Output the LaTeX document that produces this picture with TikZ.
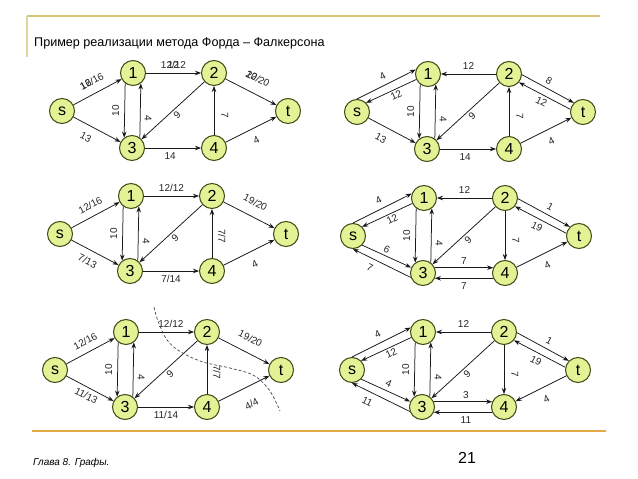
\documentclass[tikz,border=0pt]{standalone}
\usepackage{fontspec}
\setmainfont{Liberation Sans}
\usepackage{graphicx}
\usetikzlibrary{arrows.meta}
\definecolor{vfill}{RGB}{228,241,148}
\definecolor{vline}{RGB}{60,75,20}
\definecolor{topline}{RGB}{214,196,120}
\definecolor{botline}{RGB}{226,170,70}
\newcommand\vtxs{%
  \node[vtx] (s) at (0,0) {s};
  \node[vtx] (v1) at (71,-38) {1};
  \node[vtx] (v2) at (152,-38) {2};
  \node[vtx] (t) at (226,0) {t};
  \node[vtx] (v3) at (70,37) {3};
  \node[vtx] (v4) at (152,37) {4};}
\begin{document}
\begin{tikzpicture}[x=1pt,y=-1pt,
  vtx/.style={circle,draw=vline,fill=vfill,line width=1pt,minimum size=25pt,inner sep=0pt,font=\fontsize{16}{16}\selectfont},
  arr/.style={draw=black!90,line width=0.75pt,-{Stealth[length=6pt,width=4.5pt]}},
  lbl/.style={font=\fontsize{10}{10}\selectfont,inner sep=1pt,text=black!85},
  lup/.style={lbl,sloped,above=#1}, lup/.default=4pt,
  ldn/.style={lbl,sloped,below=#1}, ldn/.default=4pt,
  lleft/.style={lbl,left=#1}, lleft/.default=4pt,
  lright/.style={lbl,right=#1}, lright/.default=4pt,
  cut/.style={draw=black!80,line width=0.6pt,dash pattern=on 3pt off 2pt}]
\useasboundingbox (0,0) rectangle (638,479);
\fill[white] (0,0) rectangle (638,479);
% frame
\draw[topline,line width=1.2pt] (27,16) -- (600,16);
\draw[topline!70,line width=1.2pt] (27,16) -- (27,57);
\draw[botline,line width=1.2pt] (32,431) -- (606,431);
\node[anchor=base west,inner sep=0pt,font=\fontsize{12.6}{13}\selectfont] (title) at (34,46) {Пример реализации метода Форда – Фалкерсона};
\node[anchor=base west,inner sep=0pt,font=\itshape\fontsize{10}{10}\selectfont] (foot) at (33,465) {Глава 8. Графы.};
\node[anchor=base west,inner sep=0pt,font=\fontsize{16}{16}\selectfont] (page) at (458,463) {21};

% ---------- graph 1
\begin{scope}[shift={(62,111)},name prefix=ga-]
  \vtxs
  \draw[arr] (s) -- node[lup=7pt]{\ooalign{12/16\cr16\hfil}} (v1);
  \draw[arr] (s) -- node[ldn=7pt,pos=0.38]{13} (v3);
  \draw[arr] (v1) -- node[lup=3pt]{\ooalign{12/12\cr\hfil12\hfil}} (v2);
  \draw[arr] (v1.233) -- node[lleft]{\rotatebox{90}{10}} (v3.127);
  \draw[arr] (v3.53) -- node[lright=3pt,pos=0.35]{\rotatebox{-90}{4}} (v1.307);
  \draw[arr] (v2) -- node[ldn=1pt]{9} (v3);
  \draw[arr] (v3) -- node[ldn=3pt,pos=0.45]{14} (v4);
  \draw[arr] (v4) -- node[lright=6pt,pos=0.4]{\rotatebox{-90}{7}} (v2);
  \draw[arr] (v2) -- node[lup=10pt]{\ooalign{12/20\cr20\hfil}} (t);
  \draw[arr] (v4) -- node[ldn=7pt]{4} (t);
\end{scope}

% ---------- graph 2
\begin{scope}[shift={(357,112)},name prefix=gb-]
  \vtxs
  \draw[arr] (s.90) -- node[lup=4pt]{4} (v1.160);
  \draw[arr] (v1.205) -- node[ldn=1pt,pos=0.45]{12} (s.45);
  \draw[arr] (s) -- node[ldn=7pt,pos=0.38]{13} (v3);
  \draw[arr] (v1.233) -- node[lleft]{\rotatebox{90}{10}} (v3.127);
  \draw[arr] (v3.53) -- node[lright=3pt,pos=0.35]{\rotatebox{-90}{4}} (v1.307);
  \draw[arr] (v2) -- node[lup=3pt]{12} (v1);
  \draw[arr] (v2) -- node[ldn=1pt]{9} (v3);
  \draw[arr] (v2.-3) -- node[lup=3pt,pos=0.45]{8} (t.135);
  \draw[arr] (t.168) -- node[ldn=2pt]{12} (v2.-40);
  \draw[arr] (v3) -- node[ldn=3pt,pos=0.45]{14} (v4);
  \draw[arr] (v4) -- node[lright=6pt,pos=0.4]{\rotatebox{-90}{7}} (v2);
  \draw[arr] (v4) -- node[ldn=7pt]{4} (t);
\end{scope}

% ---------- graph 3
\begin{scope}[shift={(60,234)},name prefix=gc-]
  \vtxs
  \draw[arr] (s) -- node[lup=6pt]{12/16} (v1);
  \draw[arr] (s) -- node[ldn=6pt,pos=0.45]{7/13} (v3);
  \draw[arr] (v1) -- node[lup=3pt]{12/12} (v2);
  \draw[arr] (v1.233) -- node[lleft]{\rotatebox{90}{10}} (v3.127);
  \draw[arr] (v3.53) -- node[lright=3pt,pos=0.35]{\rotatebox{-90}{4}} (v1.307);
  \draw[arr] (v2) -- node[ldn=1pt]{9} (v3);
  \draw[arr] (v3) -- node[ldn=3pt]{7/14} (v4);
  \draw[arr] (v4) -- node[lright=5pt,pos=0.45]{\rotatebox{-90}{7/7}} (v2);
  \draw[arr] (v2) -- node[lup=9pt]{19/20} (t);
  \draw[arr] (v4) -- node[ldn=8pt]{4} (t);
\end{scope}

% ---------- graph 4
\begin{scope}[shift={(353,236)},name prefix=gd-]
  \vtxs
  \draw[arr] (s.90) -- node[lup=4pt]{4} (v1.160);
  \draw[arr] (v1.205) -- node[ldn=1pt,pos=0.45]{12} (s.45);
  \draw[arr] (s.-45) -- node[lup=1pt,pos=0.45]{6} (v3.155);
  \draw[arr] (v3.200) -- node[ldn=4pt,pos=0.64]{7} (s.-90);
  \draw[arr] (v1.233) -- node[lleft]{\rotatebox{90}{10}} (v3.127);
  \draw[arr] (v3.53) -- node[lright=3pt,pos=0.35]{\rotatebox{-90}{4}} (v1.307);
  \draw[arr] (v2) -- node[lup=3pt]{12} (v1);
  \draw[arr] (v2) -- node[ldn=1pt]{9} (v3);
  \draw[arr] (v2.-3) -- node[lup=3pt,pos=0.55]{1} (t.135);
  \draw[arr] (t.168) -- node[ldn=3pt]{19} (v2.-40);
  \draw[arr] (v3.24) -- node[lup=2pt]{7} (v4.156);
  \draw[arr] (v4.204) -- node[ldn=3pt]{7} (v3.-24);
  \draw[arr] (v2) -- node[lright=6pt,pos=0.6]{\rotatebox{-90}{7}} (v4);
  \draw[arr] (v4) -- node[ldn=7pt]{4} (t);
\end{scope}

% ---------- graph 5
\begin{scope}[shift={(55,370)},name prefix=ge-]
  \vtxs
  \draw[arr] (s) -- node[lup=6pt]{12/16} (v1);
  \draw[arr] (s) -- node[ldn=3pt,pos=0.5]{11/13} (v3);
  \draw[arr] (v1) -- node[lup=3pt,pos=0.58]{12/12} (v2);
  \draw[arr] (v1.233) -- node[lleft]{\rotatebox{90}{10}} (v3.127);
  \draw[arr] (v3.53) -- node[lright=3pt,pos=0.35]{\rotatebox{-90}{4}} (v1.307);
  \draw[arr] (v2) -- node[ldn=1pt]{9} (v3);
  \draw[arr] (v3) -- node[ldn=3pt]{11/14} (v4);
  \draw[arr] (v4) -- node[lright=5pt,pos=0.45]{\rotatebox{-90}{7/7}} (v2);
  \draw[arr] (v2) -- node[lup=9pt]{19/20} (t);
  \draw[arr] (v4) -- node[ldn=12pt]{4/4} (t);
\end{scope}
\draw[cut] plot[smooth,tension=0.6] coordinates {(154,307) (158,321) (167,340) (181,352) (203,362) (230,368) (253,375) (267,387) (275,400) (280,411)};

% ---------- graph 6
\begin{scope}[shift={(352,370)},name prefix=gf-]
  \vtxs
  \draw[arr] (s.90) -- node[lup=4pt]{4} (v1.160);
  \draw[arr] (v1.205) -- node[ldn=1pt,pos=0.45]{12} (s.45);
  \draw[arr] (s.-45) -- node[lup=3pt,pos=0.5]{4} (v3.155);
  \draw[arr] (v3.200) -- node[ldn=5pt,pos=0.66]{11} (s.-90);
  \draw[arr] (v1.233) -- node[lleft]{\rotatebox{90}{10}} (v3.127);
  \draw[arr] (v3.53) -- node[lright=3pt,pos=0.35]{\rotatebox{-90}{4}} (v1.307);
  \draw[arr] (v2) -- node[lup=3pt]{12} (v1);
  \draw[arr] (v2) -- node[ldn=1pt]{9} (v3);
  \draw[arr] (v2.-3) -- node[lup=3pt,pos=0.55]{1} (t.135);
  \draw[arr] (t.168) -- node[ldn=3pt]{19} (v2.-40);
  \draw[arr] (v3.24) -- node[lup=2pt,pos=0.55]{3} (v4.156);
  \draw[arr] (v4.204) -- node[ldn=3pt,pos=0.45]{11} (v3.-24);
  \draw[arr] (v2) -- node[lright=6pt,pos=0.6]{\rotatebox{-90}{7}} (v4);
  \draw[arr] (t) -- node[ldn=7pt]{4} (v4);
\end{scope}
\end{tikzpicture}
\end{document}
